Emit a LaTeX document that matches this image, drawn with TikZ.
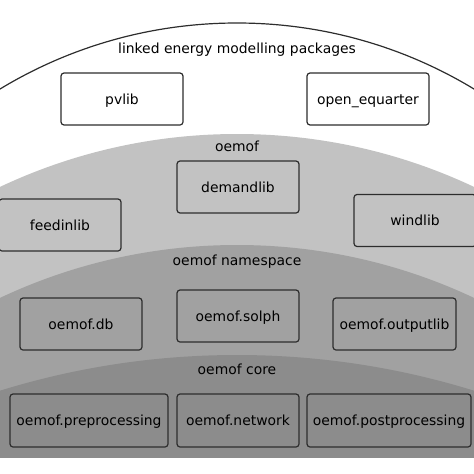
\documentclass[tikz,border=0pt]{standalone}
\usepackage{fontspec}
\setmainfont{DejaVu Sans}
\definecolor{lightlayer}{RGB}{194,194,194}
\definecolor{midlayer}{RGB}{161,161,161}
\definecolor{darklayer}{RGB}{140,140,140}
\definecolor{boxline}{RGB}{45,45,45}
\begin{document}
\begin{tikzpicture}[x=1pt,y=-1pt,
  box/.style={draw=boxline, line width=1.2pt, rounded corners=3pt,
    minimum height=52pt, inner sep=0pt, text height=10.6pt, text depth=0pt,
    font=\fontsize{13.9}{16}\selectfont},
  layerlabel/.style={anchor=base, inner sep=0pt, font=\fontsize{13.9}{16}\selectfont}]
\useasboundingbox (0,0) rectangle (474,474);
\begin{scope}
  \clip (0,0) rectangle (474,474);
  \draw[boxline, line width=1.2pt] (237,481) circle[radius=458pt];
\end{scope}
\begin{scope}
  \clip (0,0) rectangle (474,457);
  \fill[lightlayer] (237,690) circle[radius=556pt];
  \fill[midlayer] (237,801) circle[radius=556pt];
  \fill[darklayer] (237,1155) circle[radius=800pt];
\end{scope}
\node[layerlabel] (tlinked) at (237,53.5) {linked energy modelling packages};
\node[layerlabel] (toemof) at (237,151.5) {oemof};
\node[layerlabel] (tns) at (237,265) {oemof namespace};
\node[layerlabel] (tcore) at (237,374.3) {oemof core};
\node[box, minimum width=122pt] (pvlib) at (122,99) {pvlib};
\node[box, minimum width=122pt] (openeq) at (368,99) {open\_equarter};
\node[box, minimum width=122pt] (demand) at (238,187) {demandlib};
\node[box, minimum width=122pt] (feedin) at (60,225) {feedinlib};
\node[box, minimum width=122pt] (wind) at (415,220.5) {windlib};
\node[box, minimum width=122pt] (db) at (81,324) {oemof.db};
\node[box, minimum width=122pt] (solph) at (238,316) {oemof.solph};
\node[box, minimum width=123pt] (outlib) at (394.5,324) {oemof.outputlib};
\node[box, minimum width=158pt, minimum height=53pt] (pre) at (89,420.5) {oemof.preprocessing};
\node[box, minimum width=122pt, minimum height=53pt] (net) at (238,420.5) {oemof.network};
\node[box, minimum width=164pt, minimum height=53pt] (post) at (389,420.5) {oemof.postprocessing};
\end{tikzpicture}
\end{document}
